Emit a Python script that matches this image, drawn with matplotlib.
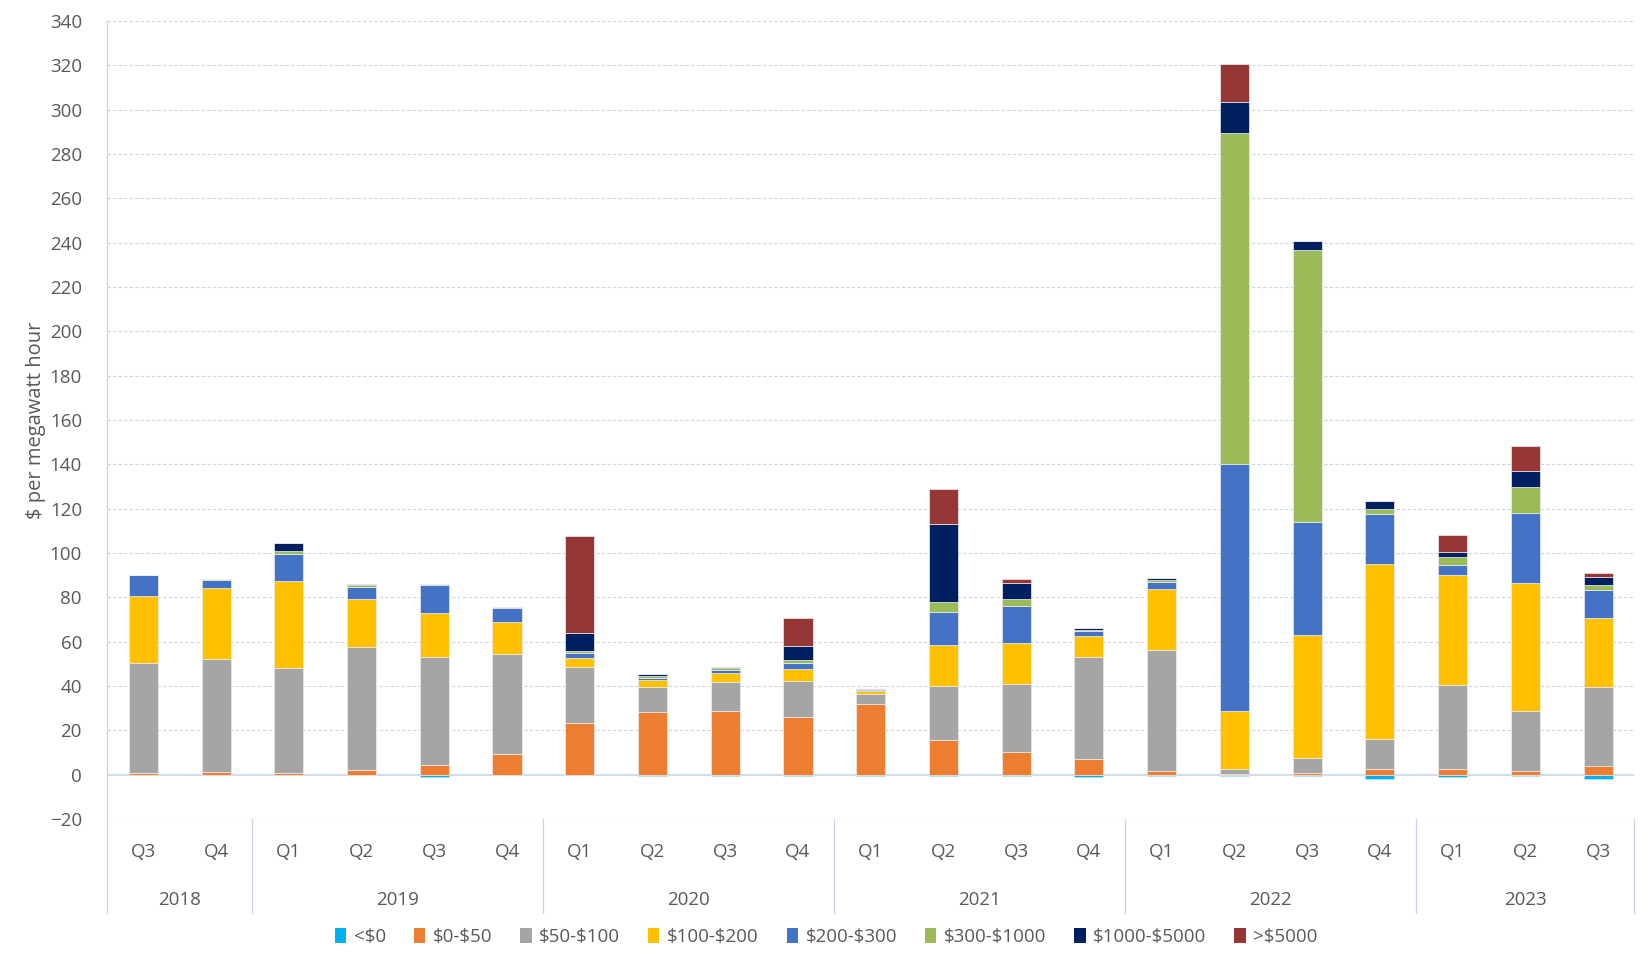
import matplotlib
matplotlib.use("Agg")
import matplotlib.pyplot as plt
import matplotlib as mb
import numpy as np
from matplotlib.patches import Patch

mb.rcParams["font.family"] = ["Open Sans", "DejaVu Sans"]
mb.rcParams["font.size"] = 13
mb.rcParams["text.parse_math"] = False  # dollar signs are plain text here

years = ["2018", "2019", "2020", "2021", "2022", "2023"]
quarters = ["Q3", "Q4",
            "Q1", "Q2", "Q3", "Q4",
            "Q1", "Q2", "Q3", "Q4",
            "Q1", "Q2", "Q3", "Q4",
            "Q1", "Q2", "Q3", "Q4",
            "Q1", "Q2", "Q3"]
year_counts = [2, 4, 4, 4, 4, 3]

bands = ["<$0", "$0-$50", "$50-$100", "$100-$200", "$200-$300",
         "$300-$1000", "$1000-$5000", ">$5000"]
band_colors = ["#00B0F0", "#ED7D31", "#A5A5A5", "#FFC000", "#4472C4",
               "#9BBB59", "#002060", "#953735"]

neg_0 = [0.0, 0.0, 0.0, 0.0, -1.0, -0.2, -0.2, -0.5, -0.5, -0.5, -0.5,
         -0.5, -0.5, -1.0, -0.5, -0.5, -0.5, -2.0, -1.0, -0.5, -2.0]
b_0_50 = [0.9, 1.0, 0.5, 2.0, 4.5, 9.5, 23.1, 28.4, 28.8, 26.1, 31.7,
          15.4, 10.4, 6.8, 1.4, 0.3, 0.5, 2.3, 2.3, 1.7, 3.9]
b_50_100 = [49.3, 51.0, 47.5, 55.5, 48.5, 44.8, 25.6, 11.3, 12.8, 16.3, 4.5,
            24.4, 30.6, 46.1, 55.0, 2.0, 7.0, 13.9, 38.3, 27.2, 35.8]
b_100_200 = [30.3, 32.3, 39.5, 21.8, 20.0, 14.7, 3.8, 3.0, 4.1, 5.1, 1.4,
             18.6, 18.3, 9.5, 27.5, 26.3, 55.4, 78.7, 49.3, 57.4, 30.8]
b_200_300 = [9.5, 3.5, 11.9, 5.2, 12.5, 6.1, 2.3, 0.9, 1.5, 3.0, 0.7,
             14.8, 16.6, 2.5, 2.9, 111.6, 51.2, 22.7, 4.7, 31.7, 12.8]
b_300_1000 = [0.0, 0.6, 1.4, 1.0, 0.6, 0.6, 0.9, 0.9, 0.8, 1.1, 0.0,
              4.8, 3.3, 0.2, 0.9, 149.5, 122.4, 2.4, 3.4, 11.9, 2.4]
b_1000_5000 = [0.0, 0.0, 3.7, 0.6, 0.0, 0.0, 8.4, 0.7, 0.6, 6.6, 0.3,
               35.1, 7.1, 1.0, 1.2, 13.9, 4.5, 3.3, 2.3, 7.2, 3.5]
b_5000 = [0.0, 0.0, 0.0, 0.0, 0.0, 0.0, 43.7, 0.0, 0.0, 12.4, 0.0,
          15.7, 1.9, 0.0, 0.0, 16.9, 0.0, 0.0, 7.7, 11.0, 1.6]

positive_series = [b_0_50, b_50_100, b_100_200, b_200_300,
                   b_300_1000, b_1000_5000, b_5000]

grid_col = "#C9D6EA"
text_col = "#595959"

fig = plt.figure(figsize=(16.46, 9.6), dpi=100)
ax = fig.add_axes([0.065, 0.147, 0.928, 0.831])

x = np.arange(len(quarters))
w = 0.4

ax.bar(x, neg_0, w, color=band_colors[0], edgecolor="#D6E6F2", linewidth=0.4, zorder=3)
bottom = np.zeros(len(quarters))
for vals, col in zip(positive_series, band_colors[1:]):
    vals = np.array(vals)
    ax.bar(x, vals, w, bottom=bottom, color=col, edgecolor="#EDEDED",
           linewidth=0.5, zorder=3)
    bottom += vals

ax.set_xlim(-0.5, len(quarters) - 0.5)
ax.set_ylim(-20, 340)
ax.set_yticks(np.arange(-20, 341, 20))
for t in np.arange(-20, 341, 20):
    if t == 0:
        ax.axhline(0, color=grid_col, lw=1.2, zorder=2)
    else:
        ax.axhline(t, color=grid_col, lw=0.8, ls=(0, (3, 2)), zorder=1)

for s in ["top", "right", "bottom"]:
    ax.spines[s].set_visible(False)
ax.spines["left"].set_color(grid_col)
ax.tick_params(axis="y", length=0, colors=text_col, labelsize=13.5, pad=18)
ax.set_xticks([])
ax.set_ylabel("$ per megawatt hour", color=text_col, fontsize=14.5, labelpad=3)

# two-level category axis
trans = ax.get_xaxis_transform()
sep_bottom = -0.118
for i, q in enumerate(quarters):
    ax.text(i, -0.041, q, transform=trans, ha="center", va="center",
            color=text_col, fontsize=13.5)
start = 0
edges = [-0.5]
for yr, n in zip(years, year_counts):
    mid = start + (n - 1) / 2
    ax.text(mid, -0.1015, yr, transform=trans, ha="center", va="center",
            color=text_col, fontsize=13.5)
    start += n
    edges.append(start - 0.5)
for e in edges:
    ax.plot([e, e], [0, sep_bottom], transform=trans, color=grid_col,
            lw=0.9, clip_on=False)
ax.plot([-0.5, -0.5], [0, 1], transform=trans, color=grid_col, lw=0.9, clip_on=False)

handles = [Patch(facecolor=c, edgecolor="none") for c in band_colors]
fig.legend(handles, bands, loc="center", bbox_to_anchor=(0.502, 0.024), ncol=8,
           frameon=False, fontsize=13.5, handlelength=0.6, handleheight=0.8,
           handletextpad=0.4, columnspacing=1.5, labelcolor=text_col)

plt.savefig("out.png", dpi=100)
